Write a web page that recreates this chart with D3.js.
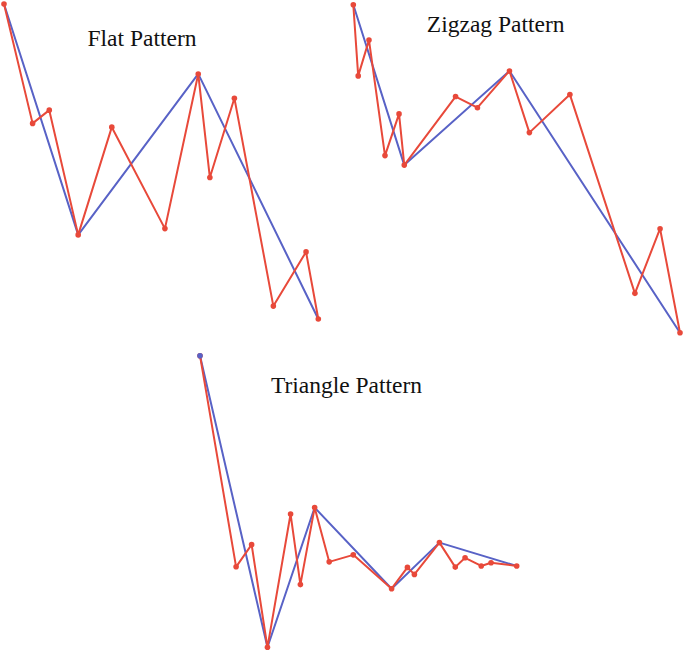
<!DOCTYPE html>
<html><head><meta charset="utf-8">
<script src="https://cdn.jsdelivr.net/npm/d3@7"></script>
<style>html,body{margin:0;padding:0;background:#fff;}svg{display:block;}</style>
</head><body>
<svg id="chart" width="685" height="652"></svg>
<script>
// ---- Data (time 0-100, price 0-100 within each pattern) ----
const patternTitles = ["Flat Pattern", "Zigzag Pattern", "Triangle Pattern"];

const flatWaveTime  = [0, 9.1, 14.4, 23.6, 34.3, 51.2, 61.8, 65.5, 73.3, 85.7, 96.1, 100];
const flatWavePrice = [100, 62.1, 66.3, 26.7, 60.9, 28.7, 77.8, 44.9, 70.1, 4.1, 21.3, 0];
const flatTrendTime  = [0, 23.6, 61.8, 100];
const flatTrendPrice = [100, 26.7, 77.8, 0];

const zigzagWaveTime  = [0, 1.5, 4.8, 9.7, 14.0, 15.6, 31.3, 38.0, 47.8, 53.9, 66.3, 86.2, 93.9, 100];
const zigzagWavePrice = [100, 78.3, 89.2, 54.0, 66.7, 51.1, 72.0, 68.6, 79.8, 61.0, 72.6, 12.0, 31.7, 0];
const zigzagTrendTime  = [0, 15.6, 47.8, 100];
const zigzagTrendPrice = [100, 51.1, 79.8, 0];

const triangleWaveTime  = [0, 11.4, 16.3, 21.3, 28.6, 31.7, 36.2, 40.8, 48.4, 60.5, 65.5, 67.7, 75.6, 80.6, 83.7, 88.8, 91.9, 100];
const triangleWavePrice = [100, 27.6, 35.2, 0, 45.7, 21.5, 47.9, 29.3, 31.7, 20.1, 27.4, 25.0, 35.9, 27.5, 30.7, 27.9, 29.0, 27.9];
const triangleTrendTime  = [0, 21.3, 36.2, 60.5, 75.6, 100];
const triangleTrendPrice = [100, 0, 47.9, 20.1, 35.9, 27.9];

// ---- Layout ----
const RED = "#e8493a", BLUE = "#5862c6";
const panels = [
  { title: patternTitles[0], wt: flatWaveTime, wp: flatWavePrice, tt: flatTrendTime, tp: flatTrendPrice,
    xr: [4, 318.3], yr: [319, 4], titleX: 142, titleY: 46, startBlue: false },
  { title: patternTitles[1], wt: zigzagWaveTime, wp: zigzagWavePrice, tt: zigzagTrendTime, tp: zigzagTrendPrice,
    xr: [353.3, 680], yr: [332.7, 4.7], titleX: 495.7, titleY: 31.7, startBlue: false },
  { title: patternTitles[2], wt: triangleWaveTime, wp: triangleWavePrice, tt: triangleTrendTime, tp: triangleTrendPrice,
    xr: [200, 516.7], yr: [647.3, 355.7], titleX: 346.5, titleY: 392.7, startBlue: true }
];

const svg = d3.select("#chart");

panels.forEach(p => {
  const x = d3.scaleLinear().domain([0, 100]).range(p.xr);
  const y = d3.scaleLinear().domain([0, 100]).range(p.yr);
  const g = svg.append("g");
  const line = d3.line().x(d => x(d[0])).y(d => y(d[1]));
  const wave = p.wt.map((t, i) => [t, p.wp[i]]);
  const trend = p.tt.map((t, i) => [t, p.tp[i]]);

  g.append("path").datum(trend).attr("d", line)
    .attr("fill", "none").attr("stroke", BLUE).attr("stroke-width", 2).attr("stroke-linejoin", "round");
  g.append("path").datum(wave).attr("d", line)
    .attr("fill", "none").attr("stroke", RED).attr("stroke-width", 2).attr("stroke-linejoin", "round");
  g.selectAll("circle.w").data(wave).join("circle").attr("class", "w")
    .attr("cx", d => x(d[0])).attr("cy", d => y(d[1])).attr("r", 2.8).attr("fill", RED);
  if (p.startBlue) {
    g.append("circle").attr("cx", x(trend[0][0])).attr("cy", y(trend[0][1])).attr("r", 2.8).attr("fill", BLUE);
  }
  svg.append("text").attr("x", p.titleX).attr("y", p.titleY)
    .attr("text-anchor", "middle")
    .attr("font-family", "'Liberation Serif', 'Times New Roman', serif")
    .attr("font-size", 23.5).attr("fill", "#111")
    .text(p.title);
});
</script>
</body></html>
